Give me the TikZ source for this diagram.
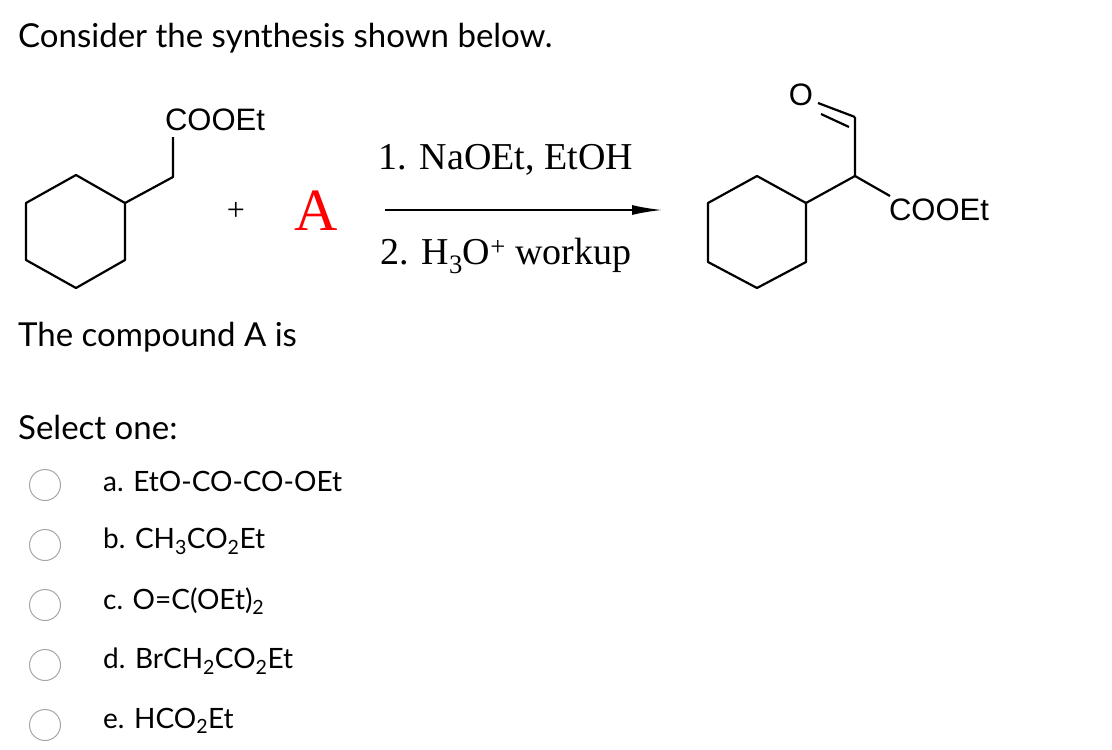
\documentclass[tikz,border=0pt]{standalone}
\usetikzlibrary{arrows.meta}
\usepackage{fontspec}
\setmainfont{Lato}
\newfontfamily\chem{Liberation Sans}
\newfontfamily\tms{Liberation Serif}
\begin{document}
\begin{tikzpicture}[x=1pt,y=-1pt,
  bond/.style={line width=2.2pt,line join=round},
  txt/.style={anchor=west,inner sep=0pt,font=\fontsize{33}{38}\selectfont},
  opt/.style={anchor=west,inner sep=0pt,font=\fontsize{28}{32}\selectfont},
  radio/.style={circle,draw=gray!70,line width=1pt,minimum size=31pt,inner sep=0pt},
  lab/.style={inner sep=0pt,font=\chem\fontsize{31}{34}\selectfont},
  cond/.style={inner sep=0pt,font=\tms\fontsize{38}{42}\selectfont}]
\useasboundingbox (0,0) rectangle (1112,750);
\node[txt] (t1) at (18,38) {Consider the synthesis shown below.};
% reactant
\draw[bond] (76,175)--(26,203)--(26,260)--(76,288)--(125,260)--(125,203)--cycle;
\coordinate (r1) at (125,203);
\coordinate (r2) at (173,177);
\coordinate (r3) at (173,137);
\draw[bond] (r1)--(r2)--(r3);
\node[lab] (c1) at (215,120) {COOEt};
\node[inner sep=0pt,font=\tms\fontsize{32}{34}\selectfont] (plus) at (236,211) {+};
\node[inner sep=0pt,font=\tms\fontsize{60}{64}\selectfont,text=red] (A) at (316,211) {A};
% arrow
\coordinate (a1) at (385,210);
\coordinate (a2) at (662,210);
\draw[line width=1.8pt,-{Latex[length=30pt,width=10pt]}] (a1)--(a2);
\node[cond] (k1) at (506,160) {1. NaOEt, EtOH};
\node[cond] (k2) at (506,256) {2. H\textsubscript{3}O\textsuperscript{+} workup};
% product
\draw[bond] (757,176)--(708,203)--(708,262)--(757,288)--(806,262)--(806,203)--cycle;
\coordinate (p1) at (806,203);
\coordinate (p2) at (855,176);
\coordinate (p3) at (855,117);
\coordinate (p4) at (890,196);
\draw[bond] (p1)--(p2)--(p3);
\draw[bond] (p2)--(p4);
\node[lab] (O) at (801,95) {O};
\draw[bond] (p3)--(818,103);
\draw[bond] (849,127)--(821,114);
\node[lab] (c2) at (939,210) {COOEt};
% question
\node[txt] (t2) at (18,337) {The compound A is};
\node[txt] (t3) at (18,427) {Select one:};
\foreach \y/\n/\t in {485/a/{a. EtO-CO-CO-OEt},545/b/{b. CH\textsubscript{3}CO\textsubscript{2}Et},605/c/{c. O=C(OEt)\textsubscript{2}},665/d/{d. BrCH\textsubscript{2}CO\textsubscript{2}Et},725/e/{e. HCO\textsubscript{2}Et}}{
  \node[radio] (r\n) at (45,\y) {};
  \node[opt] (o\n) at (103,\y-4) {\t};
}
\end{tikzpicture}
\end{document}
